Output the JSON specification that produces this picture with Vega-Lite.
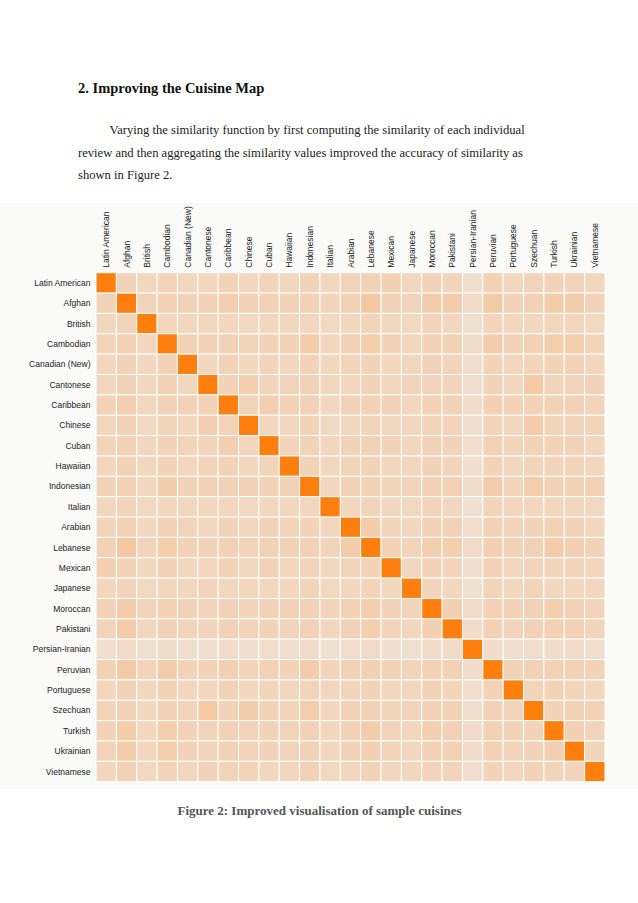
{
"$schema": "https://vega.github.io/schema/vega-lite/v6.json",
"background": "#ffffff",
"padding": {"top": 80, "left": 0, "right": 0, "bottom": 20},
"width": 638,
"height": 586,
"title": {
"text": "2. Improving the Cuisine Map",
"subtitle": ["\u200b\u00a0\u00a0\u00a0\u00a0\u00a0\u00a0\u00a0\u00a0\u00a0\u00a0Varying the similarity function by first computing the similarity of each individual", "review and then aggregating the similarity values improved the accuracy of similarity as", "shown in Figure 2."],
"anchor": "start", "frame": "group", "dx": 78, "offset": 20,
"font": "Liberation Serif", "fontSize": 14.5, "fontWeight": "bold", "color": "#111111",
"subtitleFont": "Liberation Serif", "subtitleFontSize": 12.6, "subtitleColor": "#222222", "subtitleLineHeight": 22.5, "subtitlePadding": 28
},
"data": {"values": [
{"r":"Latin American","c":"Latin American","v":1},{"r":"Latin American","c":"Afghan","v":0.24},{"r":"Latin American","c":"British","v":0.21},{"r":"Latin American","c":"Cambodian","v":0.23},{"r":"Latin American","c":"Canadian (New)","v":0.22},{"r":"Latin American","c":"Cantonese","v":0.22},{"r":"Latin American","c":"Caribbean","v":0.24},{"r":"Latin American","c":"Chinese","v":0.22},{"r":"Latin American","c":"Cuban","v":0.23},{"r":"Latin American","c":"Hawaiian","v":0.22},{"r":"Latin American","c":"Indonesian","v":0.24},{"r":"Latin American","c":"Italian","v":0.21},{"r":"Latin American","c":"Arabian","v":0.23},{"r":"Latin American","c":"Lebanese","v":0.25},{"r":"Latin American","c":"Mexican","v":0.27},{"r":"Latin American","c":"Japanese","v":0.21},{"r":"Latin American","c":"Moroccan","v":0.24},{"r":"Latin American","c":"Pakistani","v":0.23},{"r":"Latin American","c":"Persian-Iranian","v":0.14},{"r":"Latin American","c":"Peruvian","v":0.26},{"r":"Latin American","c":"Portuguese","v":0.22},{"r":"Latin American","c":"Szechuan","v":0.23},{"r":"Latin American","c":"Turkish","v":0.24},{"r":"Latin American","c":"Ukrainian","v":0.23},{"r":"Latin American","c":"Vietnamese","v":0.22},
{"r":"Afghan","c":"Latin American","v":0.24},{"r":"Afghan","c":"Afghan","v":1},{"r":"Afghan","c":"British","v":0.23},{"r":"Afghan","c":"Cambodian","v":0.26},{"r":"Afghan","c":"Canadian (New)","v":0.24},{"r":"Afghan","c":"Cantonese","v":0.24},{"r":"Afghan","c":"Caribbean","v":0.28},{"r":"Afghan","c":"Chinese","v":0.24},{"r":"Afghan","c":"Cuban","v":0.26},{"r":"Afghan","c":"Hawaiian","v":0.24},{"r":"Afghan","c":"Indonesian","v":0.26},{"r":"Afghan","c":"Italian","v":0.23},{"r":"Afghan","c":"Arabian","v":0.26},{"r":"Afghan","c":"Lebanese","v":0.34},{"r":"Afghan","c":"Mexican","v":0.24},{"r":"Afghan","c":"Japanese","v":0.23},{"r":"Afghan","c":"Moroccan","v":0.30},{"r":"Afghan","c":"Pakistani","v":0.30},{"r":"Afghan","c":"Persian-Iranian","v":0.17},{"r":"Afghan","c":"Peruvian","v":0.32},{"r":"Afghan","c":"Portuguese","v":0.24},{"r":"Afghan","c":"Szechuan","v":0.25},{"r":"Afghan","c":"Turkish","v":0.31},{"r":"Afghan","c":"Ukrainian","v":0.31},{"r":"Afghan","c":"Vietnamese","v":0.24},
{"r":"British","c":"Latin American","v":0.21},{"r":"British","c":"Afghan","v":0.23},{"r":"British","c":"British","v":1},{"r":"British","c":"Cambodian","v":0.22},{"r":"British","c":"Canadian (New)","v":0.21},{"r":"British","c":"Cantonese","v":0.21},{"r":"British","c":"Caribbean","v":0.22},{"r":"British","c":"Chinese","v":0.20},{"r":"British","c":"Cuban","v":0.22},{"r":"British","c":"Hawaiian","v":0.21},{"r":"British","c":"Indonesian","v":0.22},{"r":"British","c":"Italian","v":0.20},{"r":"British","c":"Arabian","v":0.22},{"r":"British","c":"Lebanese","v":0.23},{"r":"British","c":"Mexican","v":0.21},{"r":"British","c":"Japanese","v":0.20},{"r":"British","c":"Moroccan","v":0.23},{"r":"British","c":"Pakistani","v":0.22},{"r":"British","c":"Persian-Iranian","v":0.13},{"r":"British","c":"Peruvian","v":0.23},{"r":"British","c":"Portuguese","v":0.21},{"r":"British","c":"Szechuan","v":0.22},{"r":"British","c":"Turkish","v":0.22},{"r":"British","c":"Ukrainian","v":0.22},{"r":"British","c":"Vietnamese","v":0.20},
{"r":"Cambodian","c":"Latin American","v":0.23},{"r":"Cambodian","c":"Afghan","v":0.26},{"r":"Cambodian","c":"British","v":0.22},{"r":"Cambodian","c":"Cambodian","v":1},{"r":"Cambodian","c":"Canadian (New)","v":0.24},{"r":"Cambodian","c":"Cantonese","v":0.24},{"r":"Cambodian","c":"Caribbean","v":0.25},{"r":"Cambodian","c":"Chinese","v":0.23},{"r":"Cambodian","c":"Cuban","v":0.24},{"r":"Cambodian","c":"Hawaiian","v":0.24},{"r":"Cambodian","c":"Indonesian","v":0.31},{"r":"Cambodian","c":"Italian","v":0.22},{"r":"Cambodian","c":"Arabian","v":0.25},{"r":"Cambodian","c":"Lebanese","v":0.29},{"r":"Cambodian","c":"Mexican","v":0.24},{"r":"Cambodian","c":"Japanese","v":0.22},{"r":"Cambodian","c":"Moroccan","v":0.26},{"r":"Cambodian","c":"Pakistani","v":0.25},{"r":"Cambodian","c":"Persian-Iranian","v":0.16},{"r":"Cambodian","c":"Peruvian","v":0.30},{"r":"Cambodian","c":"Portuguese","v":0.24},{"r":"Cambodian","c":"Szechuan","v":0.26},{"r":"Cambodian","c":"Turkish","v":0.29},{"r":"Cambodian","c":"Ukrainian","v":0.29},{"r":"Cambodian","c":"Vietnamese","v":0.23},
{"r":"Canadian (New)","c":"Latin American","v":0.22},{"r":"Canadian (New)","c":"Afghan","v":0.24},{"r":"Canadian (New)","c":"British","v":0.21},{"r":"Canadian (New)","c":"Cambodian","v":0.24},{"r":"Canadian (New)","c":"Canadian (New)","v":1},{"r":"Canadian (New)","c":"Cantonese","v":0.21},{"r":"Canadian (New)","c":"Caribbean","v":0.24},{"r":"Canadian (New)","c":"Chinese","v":0.21},{"r":"Canadian (New)","c":"Cuban","v":0.23},{"r":"Canadian (New)","c":"Hawaiian","v":0.22},{"r":"Canadian (New)","c":"Indonesian","v":0.24},{"r":"Canadian (New)","c":"Italian","v":0.21},{"r":"Canadian (New)","c":"Arabian","v":0.23},{"r":"Canadian (New)","c":"Lebanese","v":0.24},{"r":"Canadian (New)","c":"Mexican","v":0.22},{"r":"Canadian (New)","c":"Japanese","v":0.21},{"r":"Canadian (New)","c":"Moroccan","v":0.24},{"r":"Canadian (New)","c":"Pakistani","v":0.23},{"r":"Canadian (New)","c":"Persian-Iranian","v":0.14},{"r":"Canadian (New)","c":"Peruvian","v":0.24},{"r":"Canadian (New)","c":"Portuguese","v":0.22},{"r":"Canadian (New)","c":"Szechuan","v":0.23},{"r":"Canadian (New)","c":"Turkish","v":0.24},{"r":"Canadian (New)","c":"Ukrainian","v":0.24},{"r":"Canadian (New)","c":"Vietnamese","v":0.22},
{"r":"Cantonese","c":"Latin American","v":0.22},{"r":"Cantonese","c":"Afghan","v":0.24},{"r":"Cantonese","c":"British","v":0.21},{"r":"Cantonese","c":"Cambodian","v":0.24},{"r":"Cantonese","c":"Canadian (New)","v":0.21},{"r":"Cantonese","c":"Cantonese","v":1},{"r":"Cantonese","c":"Caribbean","v":0.24},{"r":"Cantonese","c":"Chinese","v":0.28},{"r":"Cantonese","c":"Cuban","v":0.23},{"r":"Cantonese","c":"Hawaiian","v":0.23},{"r":"Cantonese","c":"Indonesian","v":0.25},{"r":"Cantonese","c":"Italian","v":0.21},{"r":"Cantonese","c":"Arabian","v":0.22},{"r":"Cantonese","c":"Lebanese","v":0.24},{"r":"Cantonese","c":"Mexican","v":0.22},{"r":"Cantonese","c":"Japanese","v":0.23},{"r":"Cantonese","c":"Moroccan","v":0.23},{"r":"Cantonese","c":"Pakistani","v":0.23},{"r":"Cantonese","c":"Persian-Iranian","v":0.14},{"r":"Cantonese","c":"Peruvian","v":0.24},{"r":"Cantonese","c":"Portuguese","v":0.22},{"r":"Cantonese","c":"Szechuan","v":0.33},{"r":"Cantonese","c":"Turkish","v":0.23},{"r":"Cantonese","c":"Ukrainian","v":0.23},{"r":"Cantonese","c":"Vietnamese","v":0.24},
{"r":"Caribbean","c":"Latin American","v":0.24},{"r":"Caribbean","c":"Afghan","v":0.28},{"r":"Caribbean","c":"British","v":0.22},{"r":"Caribbean","c":"Cambodian","v":0.25},{"r":"Caribbean","c":"Canadian (New)","v":0.24},{"r":"Caribbean","c":"Cantonese","v":0.24},{"r":"Caribbean","c":"Caribbean","v":1},{"r":"Caribbean","c":"Chinese","v":0.23},{"r":"Caribbean","c":"Cuban","v":0.28},{"r":"Caribbean","c":"Hawaiian","v":0.24},{"r":"Caribbean","c":"Indonesian","v":0.25},{"r":"Caribbean","c":"Italian","v":0.22},{"r":"Caribbean","c":"Arabian","v":0.24},{"r":"Caribbean","c":"Lebanese","v":0.26},{"r":"Caribbean","c":"Mexican","v":0.24},{"r":"Caribbean","c":"Japanese","v":0.22},{"r":"Caribbean","c":"Moroccan","v":0.25},{"r":"Caribbean","c":"Pakistani","v":0.25},{"r":"Caribbean","c":"Persian-Iranian","v":0.16},{"r":"Caribbean","c":"Peruvian","v":0.27},{"r":"Caribbean","c":"Portuguese","v":0.24},{"r":"Caribbean","c":"Szechuan","v":0.24},{"r":"Caribbean","c":"Turkish","v":0.25},{"r":"Caribbean","c":"Ukrainian","v":0.25},{"r":"Caribbean","c":"Vietnamese","v":0.23},
{"r":"Chinese","c":"Latin American","v":0.22},{"r":"Chinese","c":"Afghan","v":0.24},{"r":"Chinese","c":"British","v":0.20},{"r":"Chinese","c":"Cambodian","v":0.23},{"r":"Chinese","c":"Canadian (New)","v":0.21},{"r":"Chinese","c":"Cantonese","v":0.28},{"r":"Chinese","c":"Caribbean","v":0.23},{"r":"Chinese","c":"Chinese","v":1},{"r":"Chinese","c":"Cuban","v":0.22},{"r":"Chinese","c":"Hawaiian","v":0.22},{"r":"Chinese","c":"Indonesian","v":0.24},{"r":"Chinese","c":"Italian","v":0.20},{"r":"Chinese","c":"Arabian","v":0.22},{"r":"Chinese","c":"Lebanese","v":0.23},{"r":"Chinese","c":"Mexican","v":0.21},{"r":"Chinese","c":"Japanese","v":0.22},{"r":"Chinese","c":"Moroccan","v":0.23},{"r":"Chinese","c":"Pakistani","v":0.23},{"r":"Chinese","c":"Persian-Iranian","v":0.14},{"r":"Chinese","c":"Peruvian","v":0.23},{"r":"Chinese","c":"Portuguese","v":0.21},{"r":"Chinese","c":"Szechuan","v":0.30},{"r":"Chinese","c":"Turkish","v":0.23},{"r":"Chinese","c":"Ukrainian","v":0.23},{"r":"Chinese","c":"Vietnamese","v":0.23},
{"r":"Cuban","c":"Latin American","v":0.23},{"r":"Cuban","c":"Afghan","v":0.26},{"r":"Cuban","c":"British","v":0.22},{"r":"Cuban","c":"Cambodian","v":0.24},{"r":"Cuban","c":"Canadian (New)","v":0.23},{"r":"Cuban","c":"Cantonese","v":0.23},{"r":"Cuban","c":"Caribbean","v":0.28},{"r":"Cuban","c":"Chinese","v":0.22},{"r":"Cuban","c":"Cuban","v":1},{"r":"Cuban","c":"Hawaiian","v":0.23},{"r":"Cuban","c":"Indonesian","v":0.24},{"r":"Cuban","c":"Italian","v":0.22},{"r":"Cuban","c":"Arabian","v":0.24},{"r":"Cuban","c":"Lebanese","v":0.25},{"r":"Cuban","c":"Mexican","v":0.24},{"r":"Cuban","c":"Japanese","v":0.22},{"r":"Cuban","c":"Moroccan","v":0.25},{"r":"Cuban","c":"Pakistani","v":0.24},{"r":"Cuban","c":"Persian-Iranian","v":0.15},{"r":"Cuban","c":"Peruvian","v":0.26},{"r":"Cuban","c":"Portuguese","v":0.23},{"r":"Cuban","c":"Szechuan","v":0.24},{"r":"Cuban","c":"Turkish","v":0.24},{"r":"Cuban","c":"Ukrainian","v":0.24},{"r":"Cuban","c":"Vietnamese","v":0.22},
{"r":"Hawaiian","c":"Latin American","v":0.22},{"r":"Hawaiian","c":"Afghan","v":0.24},{"r":"Hawaiian","c":"British","v":0.21},{"r":"Hawaiian","c":"Cambodian","v":0.24},{"r":"Hawaiian","c":"Canadian (New)","v":0.22},{"r":"Hawaiian","c":"Cantonese","v":0.23},{"r":"Hawaiian","c":"Caribbean","v":0.24},{"r":"Hawaiian","c":"Chinese","v":0.22},{"r":"Hawaiian","c":"Cuban","v":0.23},{"r":"Hawaiian","c":"Hawaiian","v":1},{"r":"Hawaiian","c":"Indonesian","v":0.24},{"r":"Hawaiian","c":"Italian","v":0.21},{"r":"Hawaiian","c":"Arabian","v":0.23},{"r":"Hawaiian","c":"Lebanese","v":0.24},{"r":"Hawaiian","c":"Mexican","v":0.22},{"r":"Hawaiian","c":"Japanese","v":0.22},{"r":"Hawaiian","c":"Moroccan","v":0.24},{"r":"Hawaiian","c":"Pakistani","v":0.23},{"r":"Hawaiian","c":"Persian-Iranian","v":0.14},{"r":"Hawaiian","c":"Peruvian","v":0.24},{"r":"Hawaiian","c":"Portuguese","v":0.22},{"r":"Hawaiian","c":"Szechuan","v":0.23},{"r":"Hawaiian","c":"Turkish","v":0.23},{"r":"Hawaiian","c":"Ukrainian","v":0.23},{"r":"Hawaiian","c":"Vietnamese","v":0.22},
{"r":"Indonesian","c":"Latin American","v":0.24},{"r":"Indonesian","c":"Afghan","v":0.26},{"r":"Indonesian","c":"British","v":0.22},{"r":"Indonesian","c":"Cambodian","v":0.31},{"r":"Indonesian","c":"Canadian (New)","v":0.24},{"r":"Indonesian","c":"Cantonese","v":0.25},{"r":"Indonesian","c":"Caribbean","v":0.25},{"r":"Indonesian","c":"Chinese","v":0.24},{"r":"Indonesian","c":"Cuban","v":0.24},{"r":"Indonesian","c":"Hawaiian","v":0.24},{"r":"Indonesian","c":"Indonesian","v":1},{"r":"Indonesian","c":"Italian","v":0.22},{"r":"Indonesian","c":"Arabian","v":0.24},{"r":"Indonesian","c":"Lebanese","v":0.26},{"r":"Indonesian","c":"Mexican","v":0.23},{"r":"Indonesian","c":"Japanese","v":0.23},{"r":"Indonesian","c":"Moroccan","v":0.25},{"r":"Indonesian","c":"Pakistani","v":0.26},{"r":"Indonesian","c":"Persian-Iranian","v":0.16},{"r":"Indonesian","c":"Peruvian","v":0.30},{"r":"Indonesian","c":"Portuguese","v":0.23},{"r":"Indonesian","c":"Szechuan","v":0.29},{"r":"Indonesian","c":"Turkish","v":0.25},{"r":"Indonesian","c":"Ukrainian","v":0.25},{"r":"Indonesian","c":"Vietnamese","v":0.25},
{"r":"Italian","c":"Latin American","v":0.21},{"r":"Italian","c":"Afghan","v":0.23},{"r":"Italian","c":"British","v":0.20},{"r":"Italian","c":"Cambodian","v":0.22},{"r":"Italian","c":"Canadian (New)","v":0.21},{"r":"Italian","c":"Cantonese","v":0.21},{"r":"Italian","c":"Caribbean","v":0.22},{"r":"Italian","c":"Chinese","v":0.20},{"r":"Italian","c":"Cuban","v":0.22},{"r":"Italian","c":"Hawaiian","v":0.21},{"r":"Italian","c":"Indonesian","v":0.22},{"r":"Italian","c":"Italian","v":1},{"r":"Italian","c":"Arabian","v":0.22},{"r":"Italian","c":"Lebanese","v":0.23},{"r":"Italian","c":"Mexican","v":0.21},{"r":"Italian","c":"Japanese","v":0.20},{"r":"Italian","c":"Moroccan","v":0.23},{"r":"Italian","c":"Pakistani","v":0.22},{"r":"Italian","c":"Persian-Iranian","v":0.13},{"r":"Italian","c":"Peruvian","v":0.23},{"r":"Italian","c":"Portuguese","v":0.22},{"r":"Italian","c":"Szechuan","v":0.22},{"r":"Italian","c":"Turkish","v":0.22},{"r":"Italian","c":"Ukrainian","v":0.22},{"r":"Italian","c":"Vietnamese","v":0.20},
{"r":"Arabian","c":"Latin American","v":0.23},{"r":"Arabian","c":"Afghan","v":0.26},{"r":"Arabian","c":"British","v":0.22},{"r":"Arabian","c":"Cambodian","v":0.25},{"r":"Arabian","c":"Canadian (New)","v":0.23},{"r":"Arabian","c":"Cantonese","v":0.22},{"r":"Arabian","c":"Caribbean","v":0.24},{"r":"Arabian","c":"Chinese","v":0.22},{"r":"Arabian","c":"Cuban","v":0.24},{"r":"Arabian","c":"Hawaiian","v":0.23},{"r":"Arabian","c":"Indonesian","v":0.24},{"r":"Arabian","c":"Italian","v":0.22},{"r":"Arabian","c":"Arabian","v":1},{"r":"Arabian","c":"Lebanese","v":0.30},{"r":"Arabian","c":"Mexican","v":0.23},{"r":"Arabian","c":"Japanese","v":0.22},{"r":"Arabian","c":"Moroccan","v":0.26},{"r":"Arabian","c":"Pakistani","v":0.25},{"r":"Arabian","c":"Persian-Iranian","v":0.15},{"r":"Arabian","c":"Peruvian","v":0.25},{"r":"Arabian","c":"Portuguese","v":0.23},{"r":"Arabian","c":"Szechuan","v":0.24},{"r":"Arabian","c":"Turkish","v":0.26},{"r":"Arabian","c":"Ukrainian","v":0.24},{"r":"Arabian","c":"Vietnamese","v":0.22},
{"r":"Lebanese","c":"Latin American","v":0.25},{"r":"Lebanese","c":"Afghan","v":0.34},{"r":"Lebanese","c":"British","v":0.23},{"r":"Lebanese","c":"Cambodian","v":0.29},{"r":"Lebanese","c":"Canadian (New)","v":0.24},{"r":"Lebanese","c":"Cantonese","v":0.24},{"r":"Lebanese","c":"Caribbean","v":0.26},{"r":"Lebanese","c":"Chinese","v":0.23},{"r":"Lebanese","c":"Cuban","v":0.25},{"r":"Lebanese","c":"Hawaiian","v":0.24},{"r":"Lebanese","c":"Indonesian","v":0.26},{"r":"Lebanese","c":"Italian","v":0.23},{"r":"Lebanese","c":"Arabian","v":0.30},{"r":"Lebanese","c":"Lebanese","v":1},{"r":"Lebanese","c":"Mexican","v":0.24},{"r":"Lebanese","c":"Japanese","v":0.23},{"r":"Lebanese","c":"Moroccan","v":0.29},{"r":"Lebanese","c":"Pakistani","v":0.28},{"r":"Lebanese","c":"Persian-Iranian","v":0.17},{"r":"Lebanese","c":"Peruvian","v":0.27},{"r":"Lebanese","c":"Portuguese","v":0.24},{"r":"Lebanese","c":"Szechuan","v":0.25},{"r":"Lebanese","c":"Turkish","v":0.30},{"r":"Lebanese","c":"Ukrainian","v":0.27},{"r":"Lebanese","c":"Vietnamese","v":0.24},
{"r":"Mexican","c":"Latin American","v":0.27},{"r":"Mexican","c":"Afghan","v":0.24},{"r":"Mexican","c":"British","v":0.21},{"r":"Mexican","c":"Cambodian","v":0.24},{"r":"Mexican","c":"Canadian (New)","v":0.22},{"r":"Mexican","c":"Cantonese","v":0.22},{"r":"Mexican","c":"Caribbean","v":0.24},{"r":"Mexican","c":"Chinese","v":0.21},{"r":"Mexican","c":"Cuban","v":0.24},{"r":"Mexican","c":"Hawaiian","v":0.22},{"r":"Mexican","c":"Indonesian","v":0.23},{"r":"Mexican","c":"Italian","v":0.21},{"r":"Mexican","c":"Arabian","v":0.23},{"r":"Mexican","c":"Lebanese","v":0.24},{"r":"Mexican","c":"Mexican","v":1},{"r":"Mexican","c":"Japanese","v":0.21},{"r":"Mexican","c":"Moroccan","v":0.24},{"r":"Mexican","c":"Pakistani","v":0.23},{"r":"Mexican","c":"Persian-Iranian","v":0.14},{"r":"Mexican","c":"Peruvian","v":0.25},{"r":"Mexican","c":"Portuguese","v":0.22},{"r":"Mexican","c":"Szechuan","v":0.23},{"r":"Mexican","c":"Turkish","v":0.23},{"r":"Mexican","c":"Ukrainian","v":0.23},{"r":"Mexican","c":"Vietnamese","v":0.22},
{"r":"Japanese","c":"Latin American","v":0.21},{"r":"Japanese","c":"Afghan","v":0.23},{"r":"Japanese","c":"British","v":0.20},{"r":"Japanese","c":"Cambodian","v":0.22},{"r":"Japanese","c":"Canadian (New)","v":0.21},{"r":"Japanese","c":"Cantonese","v":0.23},{"r":"Japanese","c":"Caribbean","v":0.22},{"r":"Japanese","c":"Chinese","v":0.22},{"r":"Japanese","c":"Cuban","v":0.22},{"r":"Japanese","c":"Hawaiian","v":0.22},{"r":"Japanese","c":"Indonesian","v":0.23},{"r":"Japanese","c":"Italian","v":0.20},{"r":"Japanese","c":"Arabian","v":0.22},{"r":"Japanese","c":"Lebanese","v":0.23},{"r":"Japanese","c":"Mexican","v":0.21},{"r":"Japanese","c":"Japanese","v":1},{"r":"Japanese","c":"Moroccan","v":0.23},{"r":"Japanese","c":"Pakistani","v":0.22},{"r":"Japanese","c":"Persian-Iranian","v":0.13},{"r":"Japanese","c":"Peruvian","v":0.23},{"r":"Japanese","c":"Portuguese","v":0.21},{"r":"Japanese","c":"Szechuan","v":0.23},{"r":"Japanese","c":"Turkish","v":0.22},{"r":"Japanese","c":"Ukrainian","v":0.22},{"r":"Japanese","c":"Vietnamese","v":0.22},
{"r":"Moroccan","c":"Latin American","v":0.24},{"r":"Moroccan","c":"Afghan","v":0.30},{"r":"Moroccan","c":"British","v":0.23},{"r":"Moroccan","c":"Cambodian","v":0.26},{"r":"Moroccan","c":"Canadian (New)","v":0.24},{"r":"Moroccan","c":"Cantonese","v":0.23},{"r":"Moroccan","c":"Caribbean","v":0.25},{"r":"Moroccan","c":"Chinese","v":0.23},{"r":"Moroccan","c":"Cuban","v":0.25},{"r":"Moroccan","c":"Hawaiian","v":0.24},{"r":"Moroccan","c":"Indonesian","v":0.25},{"r":"Moroccan","c":"Italian","v":0.23},{"r":"Moroccan","c":"Arabian","v":0.26},{"r":"Moroccan","c":"Lebanese","v":0.29},{"r":"Moroccan","c":"Mexican","v":0.24},{"r":"Moroccan","c":"Japanese","v":0.23},{"r":"Moroccan","c":"Moroccan","v":1},{"r":"Moroccan","c":"Pakistani","v":0.27},{"r":"Moroccan","c":"Persian-Iranian","v":0.16},{"r":"Moroccan","c":"Peruvian","v":0.26},{"r":"Moroccan","c":"Portuguese","v":0.24},{"r":"Moroccan","c":"Szechuan","v":0.25},{"r":"Moroccan","c":"Turkish","v":0.28},{"r":"Moroccan","c":"Ukrainian","v":0.26},{"r":"Moroccan","c":"Vietnamese","v":0.23},
{"r":"Pakistani","c":"Latin American","v":0.23},{"r":"Pakistani","c":"Afghan","v":0.30},{"r":"Pakistani","c":"British","v":0.22},{"r":"Pakistani","c":"Cambodian","v":0.25},{"r":"Pakistani","c":"Canadian (New)","v":0.23},{"r":"Pakistani","c":"Cantonese","v":0.23},{"r":"Pakistani","c":"Caribbean","v":0.25},{"r":"Pakistani","c":"Chinese","v":0.23},{"r":"Pakistani","c":"Cuban","v":0.24},{"r":"Pakistani","c":"Hawaiian","v":0.23},{"r":"Pakistani","c":"Indonesian","v":0.26},{"r":"Pakistani","c":"Italian","v":0.22},{"r":"Pakistani","c":"Arabian","v":0.25},{"r":"Pakistani","c":"Lebanese","v":0.28},{"r":"Pakistani","c":"Mexican","v":0.23},{"r":"Pakistani","c":"Japanese","v":0.22},{"r":"Pakistani","c":"Moroccan","v":0.27},{"r":"Pakistani","c":"Pakistani","v":1},{"r":"Pakistani","c":"Persian-Iranian","v":0.16},{"r":"Pakistani","c":"Peruvian","v":0.26},{"r":"Pakistani","c":"Portuguese","v":0.23},{"r":"Pakistani","c":"Szechuan","v":0.25},{"r":"Pakistani","c":"Turkish","v":0.26},{"r":"Pakistani","c":"Ukrainian","v":0.26},{"r":"Pakistani","c":"Vietnamese","v":0.23},
{"r":"Persian-Iranian","c":"Latin American","v":0.14},{"r":"Persian-Iranian","c":"Afghan","v":0.17},{"r":"Persian-Iranian","c":"British","v":0.13},{"r":"Persian-Iranian","c":"Cambodian","v":0.16},{"r":"Persian-Iranian","c":"Canadian (New)","v":0.14},{"r":"Persian-Iranian","c":"Cantonese","v":0.14},{"r":"Persian-Iranian","c":"Caribbean","v":0.16},{"r":"Persian-Iranian","c":"Chinese","v":0.14},{"r":"Persian-Iranian","c":"Cuban","v":0.15},{"r":"Persian-Iranian","c":"Hawaiian","v":0.14},{"r":"Persian-Iranian","c":"Indonesian","v":0.16},{"r":"Persian-Iranian","c":"Italian","v":0.13},{"r":"Persian-Iranian","c":"Arabian","v":0.15},{"r":"Persian-Iranian","c":"Lebanese","v":0.17},{"r":"Persian-Iranian","c":"Mexican","v":0.14},{"r":"Persian-Iranian","c":"Japanese","v":0.13},{"r":"Persian-Iranian","c":"Moroccan","v":0.16},{"r":"Persian-Iranian","c":"Pakistani","v":0.16},{"r":"Persian-Iranian","c":"Persian-Iranian","v":1},{"r":"Persian-Iranian","c":"Peruvian","v":0.16},{"r":"Persian-Iranian","c":"Portuguese","v":0.14},{"r":"Persian-Iranian","c":"Szechuan","v":0.15},{"r":"Persian-Iranian","c":"Turkish","v":0.16},{"r":"Persian-Iranian","c":"Ukrainian","v":0.16},{"r":"Persian-Iranian","c":"Vietnamese","v":0.14},
{"r":"Peruvian","c":"Latin American","v":0.26},{"r":"Peruvian","c":"Afghan","v":0.32},{"r":"Peruvian","c":"British","v":0.23},{"r":"Peruvian","c":"Cambodian","v":0.30},{"r":"Peruvian","c":"Canadian (New)","v":0.24},{"r":"Peruvian","c":"Cantonese","v":0.24},{"r":"Peruvian","c":"Caribbean","v":0.27},{"r":"Peruvian","c":"Chinese","v":0.23},{"r":"Peruvian","c":"Cuban","v":0.26},{"r":"Peruvian","c":"Hawaiian","v":0.24},{"r":"Peruvian","c":"Indonesian","v":0.30},{"r":"Peruvian","c":"Italian","v":0.23},{"r":"Peruvian","c":"Arabian","v":0.25},{"r":"Peruvian","c":"Lebanese","v":0.27},{"r":"Peruvian","c":"Mexican","v":0.25},{"r":"Peruvian","c":"Japanese","v":0.23},{"r":"Peruvian","c":"Moroccan","v":0.26},{"r":"Peruvian","c":"Pakistani","v":0.26},{"r":"Peruvian","c":"Persian-Iranian","v":0.16},{"r":"Peruvian","c":"Peruvian","v":1},{"r":"Peruvian","c":"Portuguese","v":0.24},{"r":"Peruvian","c":"Szechuan","v":0.25},{"r":"Peruvian","c":"Turkish","v":0.26},{"r":"Peruvian","c":"Ukrainian","v":0.26},{"r":"Peruvian","c":"Vietnamese","v":0.24},
{"r":"Portuguese","c":"Latin American","v":0.22},{"r":"Portuguese","c":"Afghan","v":0.24},{"r":"Portuguese","c":"British","v":0.21},{"r":"Portuguese","c":"Cambodian","v":0.24},{"r":"Portuguese","c":"Canadian (New)","v":0.22},{"r":"Portuguese","c":"Cantonese","v":0.22},{"r":"Portuguese","c":"Caribbean","v":0.24},{"r":"Portuguese","c":"Chinese","v":0.21},{"r":"Portuguese","c":"Cuban","v":0.23},{"r":"Portuguese","c":"Hawaiian","v":0.22},{"r":"Portuguese","c":"Indonesian","v":0.23},{"r":"Portuguese","c":"Italian","v":0.22},{"r":"Portuguese","c":"Arabian","v":0.23},{"r":"Portuguese","c":"Lebanese","v":0.24},{"r":"Portuguese","c":"Mexican","v":0.22},{"r":"Portuguese","c":"Japanese","v":0.21},{"r":"Portuguese","c":"Moroccan","v":0.24},{"r":"Portuguese","c":"Pakistani","v":0.23},{"r":"Portuguese","c":"Persian-Iranian","v":0.14},{"r":"Portuguese","c":"Peruvian","v":0.24},{"r":"Portuguese","c":"Portuguese","v":1},{"r":"Portuguese","c":"Szechuan","v":0.23},{"r":"Portuguese","c":"Turkish","v":0.24},{"r":"Portuguese","c":"Ukrainian","v":0.23},{"r":"Portuguese","c":"Vietnamese","v":0.22},
{"r":"Szechuan","c":"Latin American","v":0.23},{"r":"Szechuan","c":"Afghan","v":0.25},{"r":"Szechuan","c":"British","v":0.22},{"r":"Szechuan","c":"Cambodian","v":0.26},{"r":"Szechuan","c":"Canadian (New)","v":0.23},{"r":"Szechuan","c":"Cantonese","v":0.33},{"r":"Szechuan","c":"Caribbean","v":0.24},{"r":"Szechuan","c":"Chinese","v":0.30},{"r":"Szechuan","c":"Cuban","v":0.24},{"r":"Szechuan","c":"Hawaiian","v":0.23},{"r":"Szechuan","c":"Indonesian","v":0.29},{"r":"Szechuan","c":"Italian","v":0.22},{"r":"Szechuan","c":"Arabian","v":0.24},{"r":"Szechuan","c":"Lebanese","v":0.25},{"r":"Szechuan","c":"Mexican","v":0.23},{"r":"Szechuan","c":"Japanese","v":0.23},{"r":"Szechuan","c":"Moroccan","v":0.25},{"r":"Szechuan","c":"Pakistani","v":0.25},{"r":"Szechuan","c":"Persian-Iranian","v":0.15},{"r":"Szechuan","c":"Peruvian","v":0.25},{"r":"Szechuan","c":"Portuguese","v":0.23},{"r":"Szechuan","c":"Szechuan","v":1},{"r":"Szechuan","c":"Turkish","v":0.24},{"r":"Szechuan","c":"Ukrainian","v":0.24},{"r":"Szechuan","c":"Vietnamese","v":0.24},
{"r":"Turkish","c":"Latin American","v":0.24},{"r":"Turkish","c":"Afghan","v":0.31},{"r":"Turkish","c":"British","v":0.22},{"r":"Turkish","c":"Cambodian","v":0.29},{"r":"Turkish","c":"Canadian (New)","v":0.24},{"r":"Turkish","c":"Cantonese","v":0.23},{"r":"Turkish","c":"Caribbean","v":0.25},{"r":"Turkish","c":"Chinese","v":0.23},{"r":"Turkish","c":"Cuban","v":0.24},{"r":"Turkish","c":"Hawaiian","v":0.23},{"r":"Turkish","c":"Indonesian","v":0.25},{"r":"Turkish","c":"Italian","v":0.22},{"r":"Turkish","c":"Arabian","v":0.26},{"r":"Turkish","c":"Lebanese","v":0.30},{"r":"Turkish","c":"Mexican","v":0.23},{"r":"Turkish","c":"Japanese","v":0.22},{"r":"Turkish","c":"Moroccan","v":0.28},{"r":"Turkish","c":"Pakistani","v":0.26},{"r":"Turkish","c":"Persian-Iranian","v":0.16},{"r":"Turkish","c":"Peruvian","v":0.26},{"r":"Turkish","c":"Portuguese","v":0.24},{"r":"Turkish","c":"Szechuan","v":0.24},{"r":"Turkish","c":"Turkish","v":1},{"r":"Turkish","c":"Ukrainian","v":0.27},{"r":"Turkish","c":"Vietnamese","v":0.23},
{"r":"Ukrainian","c":"Latin American","v":0.23},{"r":"Ukrainian","c":"Afghan","v":0.31},{"r":"Ukrainian","c":"British","v":0.22},{"r":"Ukrainian","c":"Cambodian","v":0.29},{"r":"Ukrainian","c":"Canadian (New)","v":0.24},{"r":"Ukrainian","c":"Cantonese","v":0.23},{"r":"Ukrainian","c":"Caribbean","v":0.25},{"r":"Ukrainian","c":"Chinese","v":0.23},{"r":"Ukrainian","c":"Cuban","v":0.24},{"r":"Ukrainian","c":"Hawaiian","v":0.23},{"r":"Ukrainian","c":"Indonesian","v":0.25},{"r":"Ukrainian","c":"Italian","v":0.22},{"r":"Ukrainian","c":"Arabian","v":0.24},{"r":"Ukrainian","c":"Lebanese","v":0.27},{"r":"Ukrainian","c":"Mexican","v":0.23},{"r":"Ukrainian","c":"Japanese","v":0.22},{"r":"Ukrainian","c":"Moroccan","v":0.26},{"r":"Ukrainian","c":"Pakistani","v":0.26},{"r":"Ukrainian","c":"Persian-Iranian","v":0.16},{"r":"Ukrainian","c":"Peruvian","v":0.26},{"r":"Ukrainian","c":"Portuguese","v":0.23},{"r":"Ukrainian","c":"Szechuan","v":0.24},{"r":"Ukrainian","c":"Turkish","v":0.27},{"r":"Ukrainian","c":"Ukrainian","v":1},{"r":"Ukrainian","c":"Vietnamese","v":0.23},
{"r":"Vietnamese","c":"Latin American","v":0.22},{"r":"Vietnamese","c":"Afghan","v":0.24},{"r":"Vietnamese","c":"British","v":0.20},{"r":"Vietnamese","c":"Cambodian","v":0.23},{"r":"Vietnamese","c":"Canadian (New)","v":0.22},{"r":"Vietnamese","c":"Cantonese","v":0.24},{"r":"Vietnamese","c":"Caribbean","v":0.23},{"r":"Vietnamese","c":"Chinese","v":0.23},{"r":"Vietnamese","c":"Cuban","v":0.22},{"r":"Vietnamese","c":"Hawaiian","v":0.22},{"r":"Vietnamese","c":"Indonesian","v":0.25},{"r":"Vietnamese","c":"Italian","v":0.20},{"r":"Vietnamese","c":"Arabian","v":0.22},{"r":"Vietnamese","c":"Lebanese","v":0.24},{"r":"Vietnamese","c":"Mexican","v":0.22},{"r":"Vietnamese","c":"Japanese","v":0.22},{"r":"Vietnamese","c":"Moroccan","v":0.23},{"r":"Vietnamese","c":"Pakistani","v":0.23},{"r":"Vietnamese","c":"Persian-Iranian","v":0.14},{"r":"Vietnamese","c":"Peruvian","v":0.24},{"r":"Vietnamese","c":"Portuguese","v":0.22},{"r":"Vietnamese","c":"Szechuan","v":0.24},{"r":"Vietnamese","c":"Turkish","v":0.23},{"r":"Vietnamese","c":"Ukrainian","v":0.23},{"r":"Vietnamese","c":"Vietnamese","v":1}
]},
"layer": [
{
"mark": {"type": "rect", "stroke": "#ffffff", "strokeWidth": 1},
"encoding": {
"x": {"field": "c", "type": "nominal",
"sort": ["Latin American","Afghan","British","Cambodian","Canadian (New)","Cantonese","Caribbean","Chinese","Cuban","Hawaiian","Indonesian","Italian","Arabian","Lebanese","Mexican","Japanese","Moroccan","Pakistani","Persian-Iranian","Peruvian","Portuguese","Szechuan","Turkish","Ukrainian","Vietnamese"],
"scale": {"paddingInner": 0, "paddingOuter": 0, "range": [96, 605]},
"axis": {"orient": "top", "labelAngle": -90, "offset": -69.7, "labelPadding": 5.5, "domain": false, "ticks": false, "tickSize": 0, "grid": false, "title": null, "labelFont": "Liberation Sans", "labelFontSize": 8.5, "labelColor": "#222222", "labelOverlap": false, "minExtent": 0}},
"y": {"field": "r", "type": "nominal",
"sort": ["Latin American","Afghan","British","Cambodian","Canadian (New)","Cantonese","Caribbean","Chinese","Cuban","Hawaiian","Indonesian","Italian","Arabian","Lebanese","Mexican","Japanese","Moroccan","Pakistani","Persian-Iranian","Peruvian","Portuguese","Szechuan","Turkish","Ukrainian","Vietnamese"],
"scale": {"paddingInner": 0, "paddingOuter": 0, "range": [69.7, 578.7]},
"axis": {"orient": "left", "offset": -96, "labelPadding": 6, "domain": false, "ticks": false, "tickSize": 0, "grid": false, "title": null, "labelFont": "Liberation Sans", "labelFontSize": 8.5, "labelColor": "#222222", "labelOverlap": false, "minExtent": 0}},
"color": {"field": "v", "type": "quantitative", "scale": {"domain": [0, 1], "range": ["#eeeeee", "#ff7f0e"], "interpolate": "rgb"}, "legend": null}
}
},
{
"mark": {"type": "rect", "stroke": "#ffffff", "strokeWidth": 1},
"encoding": {
"x": {"field": "c", "type": "nominal",
"sort": ["Latin American","Afghan","British","Cambodian","Canadian (New)","Cantonese","Caribbean","Chinese","Cuban","Hawaiian","Indonesian","Italian","Arabian","Lebanese","Mexican","Japanese","Moroccan","Pakistani","Persian-Iranian","Peruvian","Portuguese","Szechuan","Turkish","Ukrainian","Vietnamese"],
"scale": {"paddingInner": 0, "paddingOuter": 0, "range": [96, 605]},
"axis": {"orient": "bottom", "labels": false, "domain": false, "ticks": false, "tickSize": 0, "grid": false, "minExtent": 0, "title": "Figure 2: Improved visualisation of sample cuisines", "titleX": 319, "titleAlign": "center", "titleFont": "Liberation Serif", "titleFontSize": 13, "titleFontWeight": "bold", "titleColor": "#555555", "titlePadding": 15}},
"y": {"field": "r", "type": "nominal",
"sort": ["Latin American","Afghan","British","Cambodian","Canadian (New)","Cantonese","Caribbean","Chinese","Cuban","Hawaiian","Indonesian","Italian","Arabian","Lebanese","Mexican","Japanese","Moroccan","Pakistani","Persian-Iranian","Peruvian","Portuguese","Szechuan","Turkish","Ukrainian","Vietnamese"],
"scale": {"paddingInner": 0, "paddingOuter": 0, "range": [69.7, 578.7]},
"axis": null},
"color": {"field": "v", "type": "quantitative", "scale": {"domain": [0, 1], "range": ["#eeeeee", "#ff7f0e"], "interpolate": "rgb"}, "legend": null}
}
}
],
"resolve": {"axis": {"x": "independent", "y": "independent"}},
"config": {"view": {"fill": "#fafaf9", "stroke": null}}
}
